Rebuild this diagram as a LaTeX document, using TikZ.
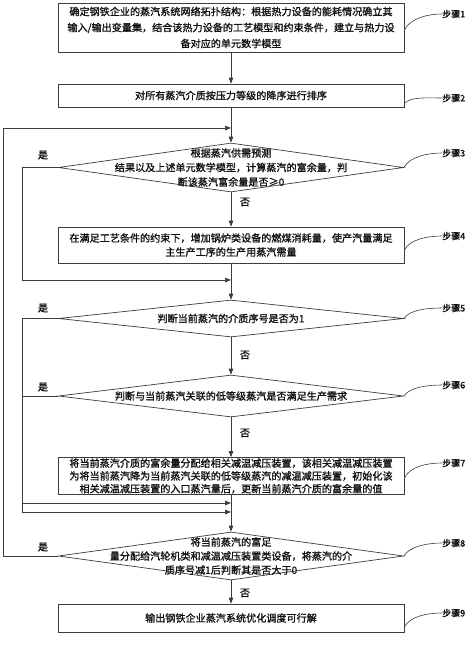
\documentclass[tikz,border=0pt]{standalone}
\usepackage{fontspec}
\setmainfont{Noto Sans CJK SC}[FakeBold=1.1]
\usetikzlibrary{arrows.meta,shapes.geometric}
\definecolor{linec}{RGB}{60,60,60}
\definecolor{txtc}{RGB}{15,15,15}
\newcommand\bodyfont{\fontsize{10.1}{14}\selectfont}
\newcommand\stepfont{\fontsize{9}{10}\selectfont}
\begin{document}
\begin{tikzpicture}[x=1pt,y=-1pt,
  box/.style={draw=linec, line width=0.7pt, minimum width=346pt, inner sep=0pt, align=center, font=\bodyfont, text=txtc},
  dia/.style={draw=linec, line width=0.7pt, diamond, minimum width=345pt, inner sep=0pt},
  txt/.style={align=center, font=\bodyfont, inner sep=0pt, text=txtc},
  arr/.style={draw=linec, line width=0.7pt, -{Triangle[length=6pt,width=4.5pt]}},
  lab/.style={font=\bodyfont, inner sep=0pt, text=txtc},
  steplab/.style={font=\stepfont, inner sep=0pt, anchor=west, text=txtc},
  leader/.style={draw=linec, line width=0.6pt}]
\fill[white] (0,0) rectangle (474,651);
\useasboundingbox (0,0) rectangle (474,651);

% nodes
\node[box, minimum height=49pt, font=\fontsize{10.1}{16}\selectfont] (b1) at (231,27.5)
  {确定钢铁企业的蒸汽系统网络拓扑结构：根据热力设备的能耗情况确立其\\输入/输出变量集，结合该热力设备的工艺模型和约束条件，建立与热力设\\备对应的单元数学模型};
\node[box, minimum height=23pt] (b2) at (231,95.5) {对所有蒸汽介质按压力等级的降序进行排序};
\node[dia, minimum height=49pt] (d3) at (231,167.5) {};
\node[txt, font=\fontsize{10.1}{14.5}\selectfont] (t3) at (231,167.5)
  {根据蒸汽供需预测\\结果以及上述单元数学模型，计算蒸汽的富余量，判\\断该蒸汽富余量是否≥0};
\node[box, minimum height=36pt] (b4) at (231,245)
  {在满足工艺条件的约束下，增加锅炉类设备的燃煤消耗量，使产汽量满足\\主生产工序的生产用蒸汽需量};
\node[dia, minimum height=37pt] (d5) at (231,318.5) {};
\node[txt] (t5) at (231,318.5) {判断当前蒸汽的介质序号是否为1};
\node[dia, minimum height=42pt] (d6) at (231,396) {};
\node[txt] (t6) at (231,396) {判断与当前蒸汽关联的低等级蒸汽是否满足生产需求};
\node[box, minimum height=37pt, font=\fontsize{10.1}{12.8}\selectfont] (b7) at (231,476)
  {将当前蒸汽介质的富余量分配给相关减温减压装置，该相关减温减压装置\\为将当前蒸汽降为当前蒸汽关联的低等级蒸汽的减温减压装置，初始化该\\相关减温减压装置的入口蒸汽量后，更新当前蒸汽介质的富余量的值};
\node[dia, minimum height=48pt] (d8) at (231,556) {};
\node[txt, font=\fontsize{10.1}{14}\selectfont] (t8) at (231,556)
  {将当前蒸汽的富足\\量分配给汽轮机类和减温减压装置类设备，将蒸汽的介\\质序号减1后判断其是否大于0};
\node[box, minimum height=28pt] (b9) at (231,618) {输出钢铁企业蒸汽系统优化调度可行解};

% junction coordinates on the main line
\coordinate (j1) at (231,128);
\coordinate (j2) at (231,280);
\coordinate (j3) at (231,503);
\coordinate (j4) at (231,512);

% main flow
\draw[arr] (b1) -- (b2);
\draw[arr] (b2) -- (d3);
\draw[arr] (d3) -- (b4);
\draw[arr] (b4) -- (d5);
\draw[arr] (d5) -- (d6);
\draw[arr] (d6) -- (b7);
\draw[arr] (b7) -- (d8);
\draw[arr] (d8) -- (b9);

% yes branches
\draw[arr] (d3.west) -- ++(-36,0) |- (j2);
\draw[arr] (d5.west) -- ++(-36,0) |- (j4);
\draw[arr] (d6.west) -- ++(-36,0) |- (j3);
\draw[arr] (d8.west) -- ++(-55,0) |- (j1);

% yes / no labels
\node[lab] (y3) at (43,155) {是};
\node[lab] (y5) at (43,308) {是};
\node[lab] (y6) at (43,387) {是};
\node[lab] (y8) at (43,547) {是};
\node[lab] (n3) at (245,202) {否};
\node[lab] (n5) at (245,355) {否};
\node[lab] (n6) at (245,433) {否};
\node[lab] (n8) at (245,593) {否};

% step labels
\node[steplab] (s1) at (442,14) {步骤1};
\node[steplab] (s2) at (442,98) {步骤2};
\node[steplab] (s3) at (442,153) {步骤3};
\node[steplab] (s4) at (442,236) {步骤4};
\node[steplab] (s5) at (442,308) {步骤5};
\node[steplab] (s6) at (442,385) {步骤6};
\node[steplab] (s7) at (442,463) {步骤7};
\node[steplab] (s8) at (442,543) {步骤8};
\node[steplab] (s9) at (442,613) {步骤9};

\draw[leader] ([yshift=-2.5pt]b1.east) .. controls +(6,-12) and +(-14,0) .. (s1.west);
\draw[leader] ([yshift=-8pt]b2.east) .. controls +(6,-7) and +(-14,0) .. (s2.west);
\draw[leader] (d3.east) .. controls +(6,-11) and +(-14,0) .. (s3.west);
\draw[leader] ([yshift=-5pt]b4.east) .. controls +(6,-11) and +(-14,0) .. (s4.west);
\draw[leader] (d5.east) .. controls +(6,-9) and +(-14,0) .. (s5.west);
\draw[leader] (d6.east) .. controls +(6,-9) and +(-14,0) .. (s6.west);
\draw[leader] ([yshift=-2pt]b7.east) .. controls +(6,-12) and +(-14,0) .. (s7.west);
\draw[leader] (d8.east) .. controls +(6,-10) and +(-14,0) .. (s8.west);
\draw[leader] ([yshift=-9pt]b9.east) .. controls +(6,-11) and +(-14,0) .. (s9.west);
\end{tikzpicture}
\end{document}
